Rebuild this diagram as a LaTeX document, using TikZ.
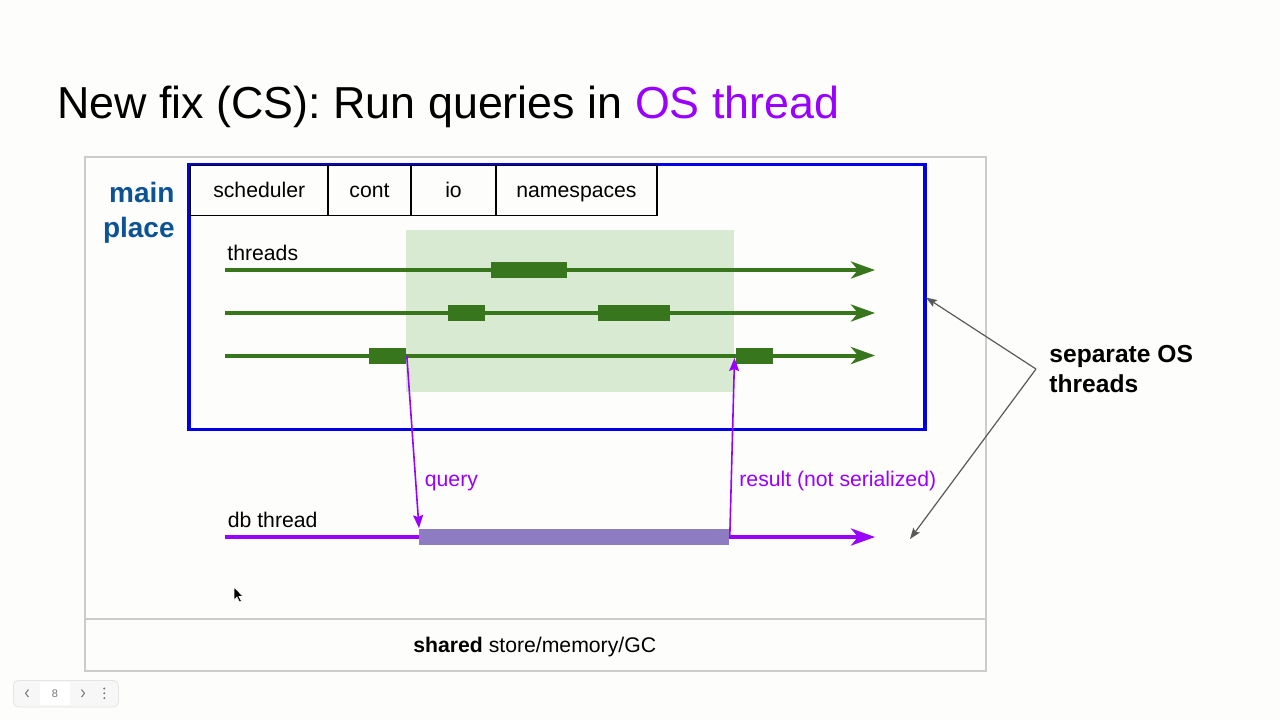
\documentclass[tikz,border=0pt]{standalone}
\usepackage{fontspec}
\setmainfont{Liberation Sans}
\usetikzlibrary{arrows.meta,calc}
\definecolor{bgc}{HTML}{FDFDFB}
\definecolor{gdark}{HTML}{38761D}
\definecolor{glight}{HTML}{D9EAD3}
\definecolor{purp}{HTML}{9900FF}
\definecolor{lav}{HTML}{8E7CC3}
\definecolor{mblue}{HTML}{0000E6}
\definecolor{tblue}{HTML}{0B5394}
\definecolor{framec}{HTML}{CCCCCC}
\definecolor{agray}{HTML}{595959}
\definecolor{navc}{HTML}{777777}
\begin{document}
\begin{tikzpicture}[x=0.5pt,y=-0.5pt,
  txt/.style={inner sep=0pt, font=\fontsize{10.6}{12}\selectfont},
  cell/.style={draw=black, line width=0.6pt, inner sep=0pt, outer sep=0pt, anchor=north west,
    minimum height=25pt, text height=7.5pt, text depth=0.5pt,
    font=\fontsize{10.6}{12}\selectfont},
  gblock/.style={fill=gdark, draw=none, inner sep=0pt, anchor=west, minimum height=8pt},
  gline/.style={draw=gdark, line width=2pt, -{Stealth[length=12pt,width=8.5pt,inset=3.5pt]}},
  pline/.style={draw=purp, line width=2pt, -{Stealth[length=12pt,width=8.5pt,inset=3.5pt]}},
  msg/.style={draw=purp, line width=0.8pt, -{Stealth[length=6.5pt,width=5pt,inset=1pt]}},
  note/.style={draw=agray, line width=0.6pt, -{Stealth[length=5.5pt,width=4pt,inset=1pt]}},
  bigbold/.style={inner sep=0pt, font=\fontsize{14}{16}\selectfont\bfseries, text=tblue},
  sepbold/.style={inner sep=0pt, font=\fontsize{12.3}{14}\selectfont\bfseries}]
\useasboundingbox (0,0) rectangle (1280,720);
\fill[bgc] (0,0) rectangle (1280,720);

% title
\node[inner sep=0pt, anchor=base west, font=\fontsize{22.4}{26}\selectfont] (title) at (57,118.5)
  {New fix (CS): Run queries in \textcolor{purp}{OS thread}};

% outer frame
\node[draw=framec, line width=1.2pt, fill=bgc, inner sep=0pt, anchor=north west,
  minimum width=450.5pt, minimum height=257pt] (outer) at (84,156) {};
\draw[framec, line width=0.6pt] (84,619) -- (985,619);
\node[txt, anchor=base west] (shared) at (413,652) {\textbf{shared} store/memory/GC};

% green highlight
\node[fill=glight, inner sep=0pt, anchor=north west, minimum width=164pt, minimum height=81pt] (hl) at (406,230) {};

% main place box
\node[draw=mblue, line width=1.65pt, inner sep=0pt, outer sep=0pt, anchor=north west,
  minimum width=368pt, minimum height=132.5pt] (mainbox) at (189,164.5) {};
\node[bigbold, anchor=base east] (main1) at (175,202.5) {main};
\node[bigbold, anchor=base east] (main2) at (175,237.5) {place};

% top cells
\node[cell, minimum width=68.75pt] (sched) at (190.5,165.5) {scheduler};
\node[cell, minimum width=41.5pt] (cont) at (sched.north east) {cont};
\node[cell, minimum width=42.5pt] (io) at (cont.north east) {io};
\node[cell, minimum width=80.5pt] (ns) at (io.north east) {namespaces};

% threads
\node[txt, anchor=base west] (thl) at (227,260) {threads};
\coordinate (t1s) at (225,270); \coordinate (t1e) at (875,270);
\coordinate (t2s) at (225,313); \coordinate (t2e) at (875,313);
\coordinate (t3s) at (225,355.5); \coordinate (t3e) at (875,355.5);
\draw[gline] (t1s) -- (t1e);
\draw[gline] (t2s) -- (t2e);
\draw[gline] (t3s) -- (t3e);
\node[gblock, minimum width=38pt] (b1) at (491,270) {};
\node[gblock, minimum width=18.5pt] (b2a) at (448,313) {};
\node[gblock, minimum width=36pt] (b2b) at (598,313) {};
\node[gblock, minimum width=18.5pt] (b3a) at (369,355.5) {};
\node[gblock, minimum width=18.5pt] (b3b) at (736,355.5) {};

% db thread
\node[txt, anchor=base west] (dbl) at (227.5,527) {db thread};
\coordinate (ds) at (225,537); \coordinate (de) at (875,537);
\draw[pline] (ds) -- (de);
\node[fill=lav, inner sep=0pt, anchor=west, minimum width=155pt, minimum height=8pt] (dbbar) at (419,536.5) {};

% query / result
\draw[msg] (b3a.east) -- (dbbar.north west);
\draw[msg] (dbbar.east) -- ($(b3b.west)+(-1.5,2.5)$);
\node[txt, anchor=base west, text=purp] (ql) at (424.5,486) {query};
\node[txt, anchor=base west, text=purp] (rl) at (739,486) {result (not serialized)};

% separate OS threads
\node[sepbold, anchor=base west] (sep1) at (1049,362.7) {separate OS};
\node[sepbold, anchor=base west] (sep2) at (1049,392.5) {threads};
\coordinate (sepo) at (1036,369);
\coordinate (dbtip) at (910,539);
\draw[note] (sepo) -- ($(mainbox.east)+(1,0.5)$);
\draw[note] (sepo) -- (dbtip);

% mouse cursor
\filldraw[fill=black, draw=white, line width=0.3pt]
  (234,587) -- (234,600) -- (237,597) -- (239.5,602) -- (241.5,601) -- (239,596.5) -- (243,596.5) -- cycle;

% slide navigation widget
\node[draw=black!10, fill=black!3, rounded corners=2.5pt, inner sep=0pt, anchor=north west,
  minimum width=52.5pt, minimum height=13.3pt] (nav) at (13,680) {};
\fill[white] (40,682) rectangle (70,705);
\node[inner sep=0pt, text=navc, font=\fontsize{5.5}{6}\selectfont] (pg) at (55,693.5) {8};
\draw[navc, line width=0.5pt] (28.5,689.5) -- (25.5,693.3) -- (28.5,697);
\draw[navc, line width=0.5pt] (81.5,689.5) -- (84.5,693.3) -- (81.5,697);
\fill[navc] (104.3,688.5) circle (1.1) (104.3,693.3) circle (1.1) (104.3,698.1) circle (1.1);
\end{tikzpicture}
\end{document}
